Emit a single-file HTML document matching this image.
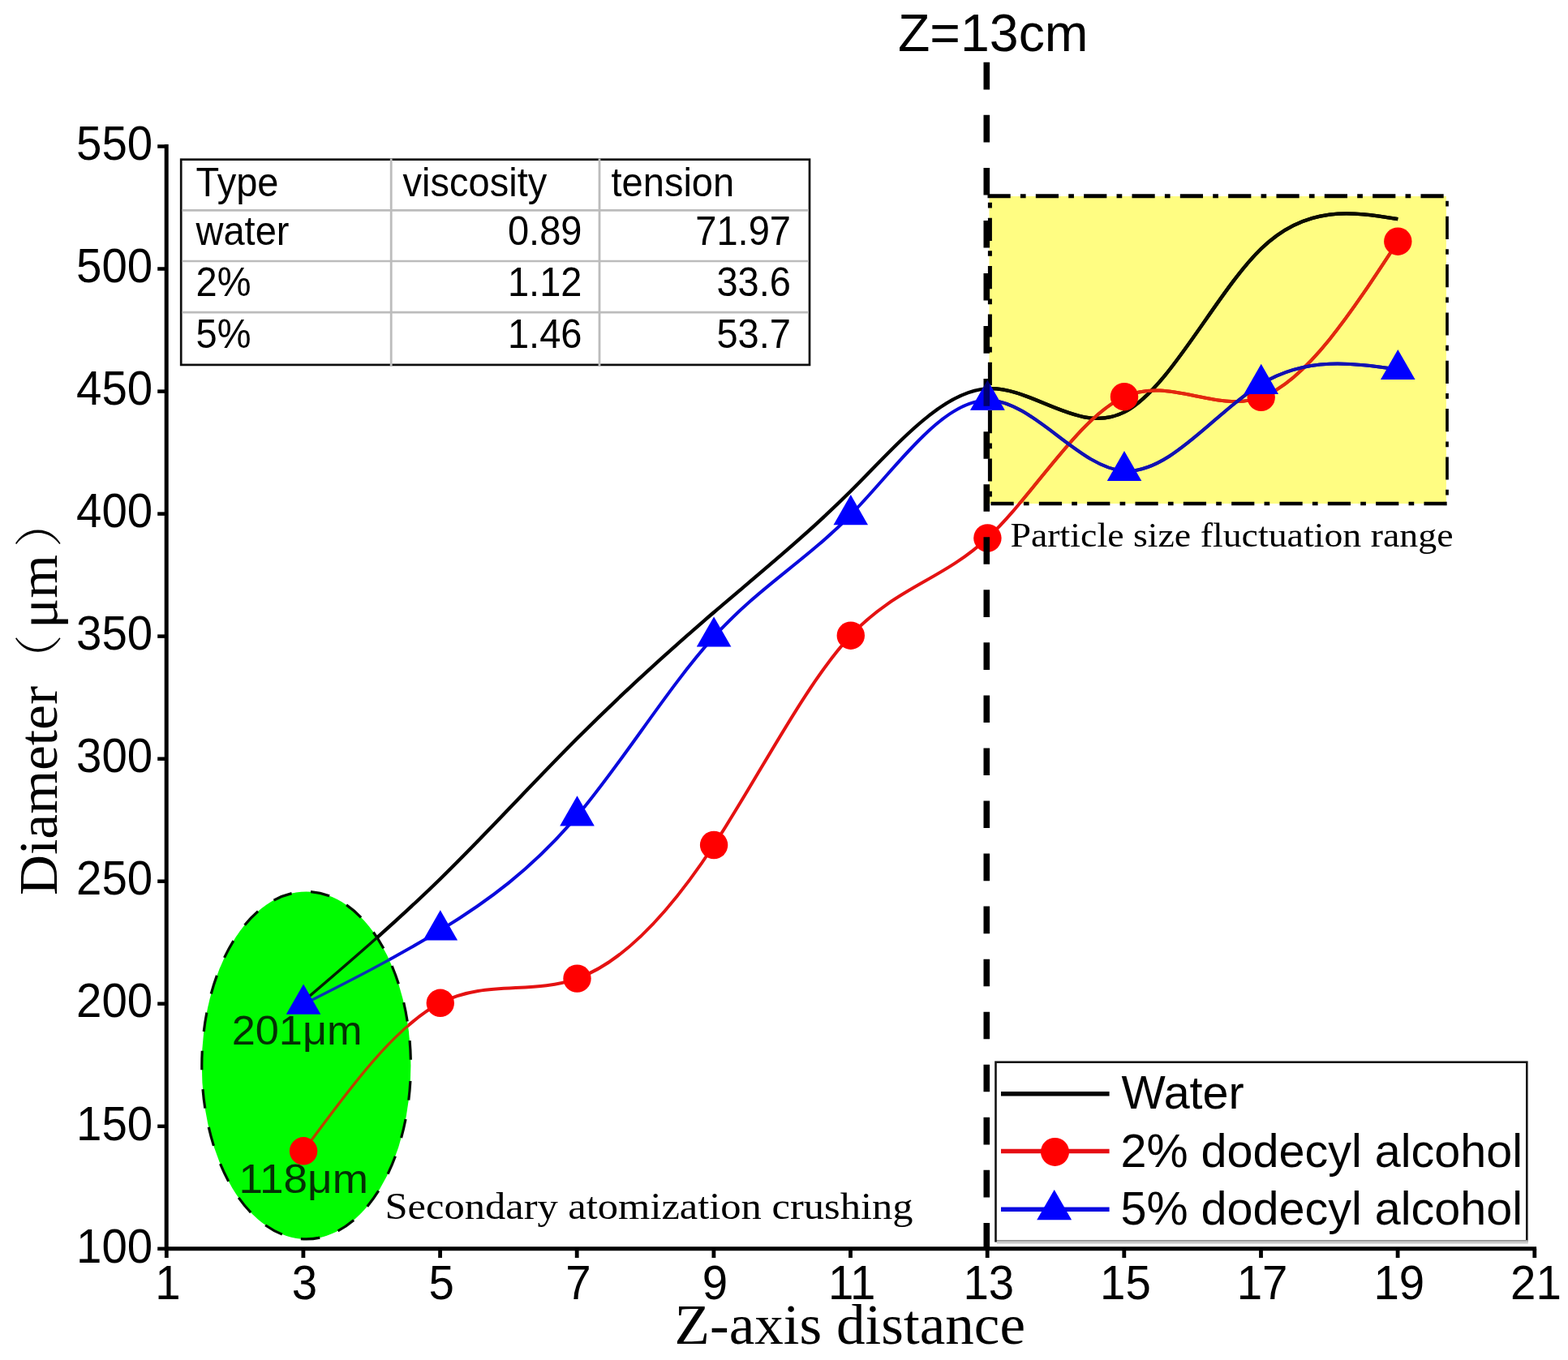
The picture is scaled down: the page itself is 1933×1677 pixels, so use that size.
<!DOCTYPE html>
<html lang="en">
<head>
<meta charset="utf-8">
<title>Droplet diameter vs Z-axis distance</title>
<style>
html,body{margin:0;padding:0;background:#fff;}
body{width:1933px;height:1677px;overflow:hidden;}
svg{display:block;}
text{white-space:pre;}
</style>
</head>
<body>
<svg width="1933" height="1677" viewBox="0 0 1933 1677">
<rect x="0" y="0" width="1933" height="1677" fill="#fff"/>
<ellipse cx="377.6" cy="1313.7" rx="128.8" ry="214.2" fill="#00fc00"/>
<ellipse cx="377.6" cy="1313.7" rx="128.8" ry="214.2" fill="none" stroke="#021002" stroke-width="3.2" stroke-dasharray="23.7 23.75" stroke-dashoffset="-19.3"/>
<rect x="1219.5" y="242" width="563.4" height="379" fill="#fffd82"/>
<g fill="none" stroke="#000" stroke-width="5">
<path d="M1217.5 241.8 H1780.5" stroke-dasharray="28.2 12.2 6.7 12.23"/>
<path d="M1221.5 621 H1784" stroke-dasharray="28.2 12.2 6.7 12.23" stroke-width="4.6"/>
<path d="M1220.4 241.8 V621" stroke-dasharray="28.2 12.2 6.7 12.23" stroke-dashoffset="32.4"/>
<path d="M1784 241.8 V621" stroke-dasharray="28.2 12.2 6.7 12.23" stroke-dashoffset="34.4" stroke-width="3.7"/>
</g>
<defs>
<clipPath id="co"><path d="M0 0H1933V1677H0Z M248.8 1313.7 a128.8 214.2 0 1 0 257.6 0 a128.8 214.2 0 1 0 -257.6 0Z" clip-rule="evenodd"/></clipPath>
<clipPath id="ci"><path d="M248.8 1313.7 a128.8 214.2 0 1 0 257.6 0 a128.8 214.2 0 1 0 -257.6 0Z"/></clipPath>
<clipPath id="cy"><rect x="1221" y="243" width="562" height="377"/></clipPath>
</defs>
<g fill="none" stroke-linejoin="round">
<path d="M374.1 1234.7 C430.4 1186.7 486.6 1138.6 542.8 1083.7 C599.0 1028.8 655.2 967.0 711.5 910.6 C767.7 854.2 823.9 803.2 880.1 755.0 C936.3 706.9 992.5 661.6 1048.8 605.5 C1105.0 549.4 1161.2 482.4 1217.4 479.2 C1273.6 476.1 1329.8 536.9 1386.0 508.2 C1442.3 479.5 1498.5 361.4 1554.7 306.8 C1610.9 252.2 1667.1 261.2 1723.3 270.2" stroke="#000" stroke-width="4.3" clip-path="url(#co)"/>
<path d="M374.1 1234.7 C430.4 1186.7 486.6 1138.6 542.8 1083.7" stroke="#032003" stroke-width="3.5" clip-path="url(#ci)"/>
<path d="M1048.8 605.5 C1105.0 549.4 1161.2 482.4 1217.4 479.2 C1273.6 476.1 1329.8 536.9 1386.0 508.2 C1442.3 479.5 1498.5 361.4 1554.7 306.8 C1610.9 252.2 1667.1 261.2 1723.3 270.2" stroke="#0c0c00" stroke-width="4.3" clip-path="url(#cy)"/>
</g>
<g fill="none" stroke-linejoin="round">
<path d="M374.1 1419.3 C430.4 1342.5 486.6 1265.8 542.8 1236.8 C599.0 1207.9 655.2 1226.7 711.5 1206.6 C767.7 1186.6 823.9 1127.7 880.1 1042.0 C936.3 956.3 992.5 843.9 1048.8 783.7 C1105.0 723.6 1161.2 715.8 1217.4 663.5 C1273.6 611.2 1329.8 514.6 1386.0 489.2 C1442.3 463.9 1498.5 509.8 1554.7 489.8 C1610.9 469.8 1667.1 383.7 1723.3 297.7" stroke="#e41212" stroke-width="4.0" clip-path="url(#co)"/>
<path d="M374.1 1419.3 C430.4 1342.5 486.6 1265.8 542.8 1236.8" stroke="#b84400" stroke-width="3.3" clip-path="url(#ci)"/>
<path d="M1048.8 783.7 C1105.0 723.6 1161.2 715.8 1217.4 663.5 C1273.6 611.2 1329.8 514.6 1386.0 489.2 C1442.3 463.9 1498.5 509.8 1554.7 489.8 C1610.9 469.8 1667.1 383.7 1723.3 297.7" stroke="#e2280e" stroke-width="4.0" clip-path="url(#cy)"/>
</g>
<circle cx="374.1" cy="1419.3" r="17.2" fill="#ff0000"/>
<circle cx="542.8" cy="1236.8" r="17.2" fill="#ff0000"/>
<circle cx="711.5" cy="1206.6" r="17.2" fill="#ff0000"/>
<circle cx="880.1" cy="1042.0" r="17.2" fill="#ff0000"/>
<circle cx="1048.8" cy="783.7" r="17.2" fill="#ff0000"/>
<circle cx="1217.4" cy="663.5" r="17.2" fill="#ff0000"/>
<circle cx="1386.0" cy="489.2" r="17.2" fill="#ff0000"/>
<circle cx="1554.7" cy="489.8" r="17.2" fill="#ff0000"/>
<circle cx="1723.3" cy="297.7" r="17.2" fill="#ff0000"/>
<g fill="none" stroke-linejoin="round">
<path d="M374.1 1238.3 C430.4 1209.9 486.6 1181.5 542.8 1147.1 C599.0 1112.8 655.2 1072.5 711.5 1006.0 C767.7 939.6 823.9 847.1 880.1 785.2 C936.3 723.4 992.5 692.3 1048.8 634.8 C1105.0 577.3 1161.2 493.5 1217.4 493.4 C1273.6 493.4 1329.8 577.2 1386.0 580.7 C1442.3 584.3 1498.5 507.7 1554.7 473.5 C1610.9 439.3 1667.1 447.5 1723.3 455.7" stroke="#0a0adc" stroke-width="4.0" clip-path="url(#co)"/>
<path d="M374.1 1238.3 C430.4 1209.9 486.6 1181.5 542.8 1147.1" stroke="#0a36b0" stroke-width="3.4" clip-path="url(#ci)"/>
<path d="M1048.8 634.8 C1105.0 577.3 1161.2 493.5 1217.4 493.4 C1273.6 493.4 1329.8 577.2 1386.0 580.7 C1442.3 584.3 1498.5 507.7 1554.7 473.5 C1610.9 439.3 1667.1 447.5 1723.3 455.7" stroke="#1212b0" stroke-width="4.0" clip-path="url(#cy)"/>
</g>
<path d="M374.1 1213.5 L395.4 1250.7 L352.8 1250.7 Z" fill="#0000ff"/>
<path d="M542.8 1122.3 L564.1 1159.5 L521.5 1159.5 Z" fill="#0000ff"/>
<path d="M711.5 981.2 L732.8 1018.4 L690.2 1018.4 Z" fill="#0000ff"/>
<path d="M880.1 760.4 L901.4 797.6 L858.8 797.6 Z" fill="#0000ff"/>
<path d="M1048.8 610.0 L1070.0 647.2 L1027.5 647.2 Z" fill="#0000ff"/>
<path d="M1217.4 468.6 L1238.7 505.8 L1196.1 505.8 Z" fill="#0000ff"/>
<path d="M1386.0 555.9 L1407.3 593.1 L1364.8 593.1 Z" fill="#0000ff"/>
<path d="M1554.7 448.7 L1576.0 485.9 L1533.4 485.9 Z" fill="#0000ff"/>
<path d="M1723.3 430.9 L1744.6 468.1 L1702.0 468.1 Z" fill="#0000ff"/>
<path d="M1216.3 76.8 V1542" fill="none" stroke="#000" stroke-width="7.6" stroke-dasharray="33.6 31.45"/>
<path d="M1217.4 468.6 L1238.7 505.8 L1196.1 505.8 Z" fill="#0000ff" fill-opacity="0.45"/>
<path d="M205.2 178.1 V1539.7 H1894.1" fill="none" stroke="#000" stroke-width="5"/>
<path d="M194.2 1539.8 H205.1" stroke="#000" stroke-width="4.5"/>
<path d="M194.2 1388.8 H205.1" stroke="#000" stroke-width="4.5"/>
<path d="M194.2 1237.7 H205.1" stroke="#000" stroke-width="4.5"/>
<path d="M194.2 1086.7 H205.1" stroke="#000" stroke-width="4.5"/>
<path d="M194.2 935.7 H205.1" stroke="#000" stroke-width="4.5"/>
<path d="M194.2 784.6 H205.1" stroke="#000" stroke-width="4.5"/>
<path d="M194.2 633.6 H205.1" stroke="#000" stroke-width="4.5"/>
<path d="M194.2 482.6 H205.1" stroke="#000" stroke-width="4.5"/>
<path d="M194.2 331.5 H205.1" stroke="#000" stroke-width="4.5"/>
<path d="M194.2 180.5 H205.1" stroke="#000" stroke-width="4.5"/>
<path d="M205.3 1539.8 V1551" stroke="#000" stroke-width="4.8"/>
<path d="M373.9 1539.8 V1551" stroke="#000" stroke-width="4.8"/>
<path d="M542.6 1539.8 V1551" stroke="#000" stroke-width="4.8"/>
<path d="M711.2 1539.8 V1551" stroke="#000" stroke-width="4.8"/>
<path d="M879.9 1539.8 V1551" stroke="#000" stroke-width="4.8"/>
<path d="M1048.5 1539.8 V1551" stroke="#000" stroke-width="4.8"/>
<path d="M1217.2 1539.8 V1551" stroke="#000" stroke-width="4.8"/>
<path d="M1385.8 1539.8 V1551" stroke="#000" stroke-width="4.8"/>
<path d="M1554.5 1539.8 V1551" stroke="#000" stroke-width="4.8"/>
<path d="M1723.1 1539.8 V1551" stroke="#000" stroke-width="4.8"/>
<path d="M1891.8 1539.8 V1551" stroke="#000" stroke-width="4.8"/>
<g font-family='"Liberation Sans", sans-serif' font-size="59" fill="#000">
<text transform="translate(188.2 1556.5) scale(0.957 1)" text-anchor="end">100</text>
<text transform="translate(188.2 1405.5) scale(0.957 1)" text-anchor="end">150</text>
<text transform="translate(188.2 1254.4) scale(0.957 1)" text-anchor="end">200</text>
<text transform="translate(188.2 1103.4) scale(0.957 1)" text-anchor="end">250</text>
<text transform="translate(188.2 952.4) scale(0.957 1)" text-anchor="end">300</text>
<text transform="translate(188.2 801.3) scale(0.957 1)" text-anchor="end">350</text>
<text transform="translate(188.2 650.3) scale(0.957 1)" text-anchor="end">400</text>
<text transform="translate(188.2 499.3) scale(0.957 1)" text-anchor="end">450</text>
<text transform="translate(188.2 348.2) scale(0.957 1)" text-anchor="end">500</text>
<text transform="translate(188.2 197.2) scale(0.957 1)" text-anchor="end">550</text>
<text transform="translate(206.9 1601.8) scale(0.957 1)" text-anchor="middle">1</text>
<text transform="translate(375.5 1601.8) scale(0.957 1)" text-anchor="middle">3</text>
<text transform="translate(544.2 1601.8) scale(0.957 1)" text-anchor="middle">5</text>
<text transform="translate(712.9 1601.8) scale(0.957 1)" text-anchor="middle">7</text>
<text transform="translate(881.5 1601.8) scale(0.957 1)" text-anchor="middle">9</text>
<text transform="translate(1050.2 1601.8) scale(0.957 1)" text-anchor="middle">11</text>
<text transform="translate(1218.8 1601.8) scale(0.957 1)" text-anchor="middle">13</text>
<text transform="translate(1387.5 1601.8) scale(0.957 1)" text-anchor="middle">15</text>
<text transform="translate(1556.1 1601.8) scale(0.957 1)" text-anchor="middle">17</text>
<text transform="translate(1724.8 1601.8) scale(0.957 1)" text-anchor="middle">19</text>
<text transform="translate(1893.4 1601.8) scale(0.957 1)" text-anchor="middle">21</text>
</g>
<text x="831.5" y="1656.8" font-family='"Liberation Serif", serif' font-size="70" textLength="432.5" lengthAdjust="spacingAndGlyphs">Z-axis distance</text>
<text transform="translate(70.3 1104) rotate(-90) scale(1 0.955)" font-family='"Liberation Serif", "Noto Serif CJK SC", serif' font-size="70" fill="#000"><tspan x="0" y="0" textLength="258" lengthAdjust="spacingAndGlyphs">Diameter</tspan><tspan x="259.5" y="-1.5" font-size="62.3" font-weight="300">（</tspan><tspan x="329.2" y="0" textLength="90.8" lengthAdjust="spacingAndGlyphs">μm</tspan><tspan x="428.9" y="-1.5" font-size="62.3" font-weight="300">）</tspan></text>
<text x="1107" y="63.4" font-family='"Liberation Sans", sans-serif' font-size="65" textLength="234.5" lengthAdjust="spacingAndGlyphs">Z=13cm</text>
<text x="1245.5" y="673.5" font-family='"Liberation Serif", serif' font-size="42.5" textLength="546" lengthAdjust="spacingAndGlyphs">Particle size fluctuation range</text>
<text x="474.5" y="1502.6" font-family='"Liberation Serif", serif' font-size="46.5" textLength="651" lengthAdjust="spacingAndGlyphs">Secondary atomization crushing</text>
<text x="285.7" y="1288" font-family='"Liberation Sans", sans-serif' font-size="50" fill="#053005" textLength="161" lengthAdjust="spacingAndGlyphs">201μm</text>
<text x="294.4" y="1471" font-family='"Liberation Sans", sans-serif' font-size="50" fill="#053005" textLength="159.5" lengthAdjust="spacingAndGlyphs">118μm</text>
<g>
<rect x="223.2" y="196.7" width="774.8" height="253.2" fill="#fff" stroke="#0e0e0e" stroke-width="2.7"/>
<path d="M224.6 259.4 H996.6" stroke="#bcbcbc" stroke-width="2.7"/>
<path d="M224.6 322.0 H996.6" stroke="#bcbcbc" stroke-width="2.7"/>
<path d="M224.6 385.1 H996.6" stroke="#bcbcbc" stroke-width="2.7"/>
<path d="M482.2 195.4 V451.2" stroke="#bcbcbc" stroke-width="2.8"/>
<path d="M739.0 195.4 V451.2" stroke="#bcbcbc" stroke-width="2.8"/>
<g font-family='"Liberation Sans", sans-serif' font-size="50" fill="#000">
<text transform="translate(241.5 241.9) scale(0.941 1)" text-anchor="start">Type</text>
<text transform="translate(496.5 241.9) scale(0.941 1)" text-anchor="start">viscosity</text>
<text transform="translate(753.5 241.9) scale(0.941 1)" text-anchor="start">tension</text>
<text transform="translate(241.5 301.9) scale(0.941 1)" text-anchor="start">water</text>
<text transform="translate(717.5 301.9) scale(0.941 1)" text-anchor="end">0.89</text>
<text transform="translate(975.0 301.9) scale(0.941 1)" text-anchor="end">71.97</text>
<text transform="translate(241.5 365.0) scale(0.941 1)" text-anchor="start">2%</text>
<text transform="translate(717.5 365.0) scale(0.941 1)" text-anchor="end">1.12</text>
<text transform="translate(975.0 365.0) scale(0.941 1)" text-anchor="end">33.6</text>
<text transform="translate(241.5 429.2) scale(0.941 1)" text-anchor="start">5%</text>
<text transform="translate(717.5 429.2) scale(0.941 1)" text-anchor="end">1.46</text>
<text transform="translate(975.0 429.2) scale(0.941 1)" text-anchor="end">53.7</text>
</g></g>
<g>
<rect x="1227.5" y="1309.7" width="654.8" height="220.6" fill="#fff" stroke="#151515" stroke-width="2.6"/>
<defs><linearGradient id="lg" x1="0" y1="0" x2="0" y2="1"><stop offset="0" stop-color="#a4a4a4"/><stop offset="1" stop-color="#e4e4e4"/></linearGradient></defs>
<rect x="1228.8" y="1529.2" width="655" height="4.8" fill="url(#lg)"/>
<path d="M1234 1348.8 H1367.6" stroke="#000" stroke-width="5.5"/>
<path d="M1234 1419.6 H1367.6" stroke="#e60f14" stroke-width="5.5"/>
<circle cx="1300.5" cy="1420.4" r="17.5" fill="#ff0000"/>
<path d="M1234 1491.2 H1367.6" stroke="#0808e0" stroke-width="5.5"/>
<path d="M1299.7 1466.9 L1321.1 1504.2 L1278.2 1504.2 Z" fill="#0000ff"/>
<g font-family='"Liberation Sans", sans-serif' font-size="57.5" fill="#000">
<text x="1382.5" y="1367.3">Water</text>
<text x="1381.5" y="1439">2% dodecyl alcohol</text>
<text x="1381.5" y="1509.8">5% dodecyl alcohol</text>
</g></g>
</svg>
</body>
</html>
